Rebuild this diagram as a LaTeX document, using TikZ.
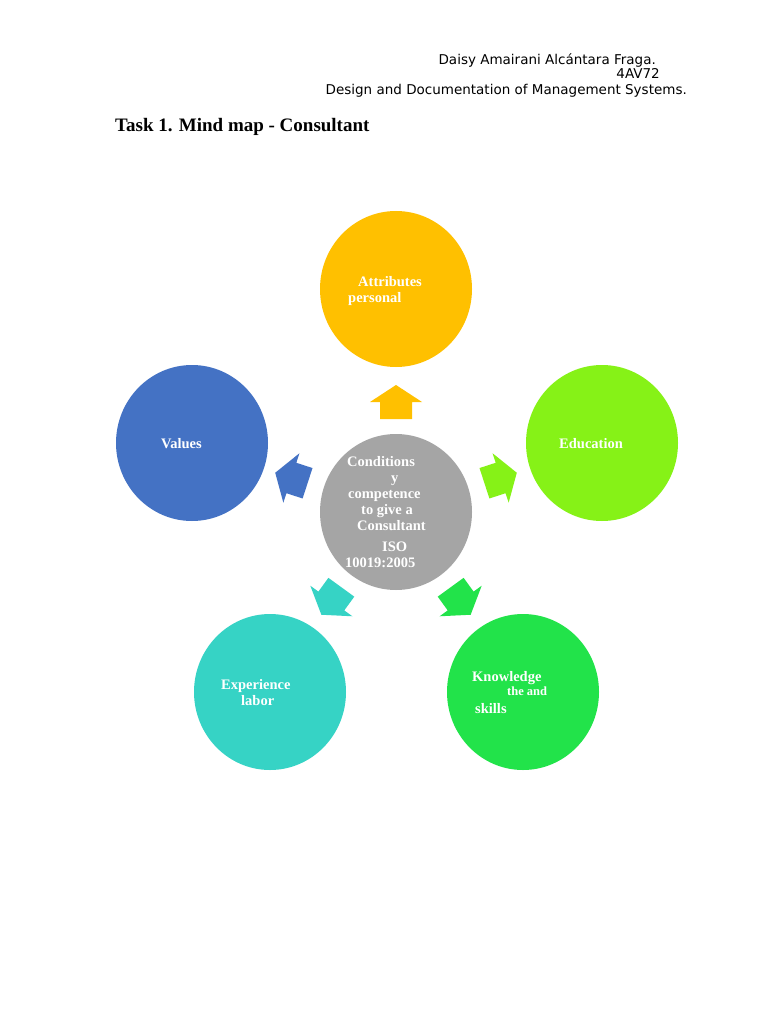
\documentclass[tikz,border=0pt]{standalone}
\usepackage{fontspec}
\setmainfont{Liberation Serif}
\newfontfamily\hdrfont{DejaVu Sans}
\usetikzlibrary{shapes.geometric}
\definecolor{cgold}{HTML}{FFC000}
\definecolor{cblue}{HTML}{4472C4}
\definecolor{clime}{HTML}{86F217}
\definecolor{cgrey}{HTML}{A5A5A5}
\definecolor{cteal}{HTML}{36D3C5}
\definecolor{cgreen}{HTML}{22E34A}
\tikzset{
  bub/.style={ellipse, minimum width=152pt, minimum height=156pt, inner sep=0pt, fill=#1},
  lab/.style={anchor=base west, text=white, font=\bfseries\fontsize{14.5}{16}\selectfont, inner sep=0pt},
  smalllab/.style={lab, font=\bfseries\fontsize{12.5}{14}\selectfont},
  hdr/.style={anchor=base east, inner sep=0pt, font=\hdrfont\fontsize{13.5}{15}\selectfont},
}
\begin{document}
\begin{tikzpicture}[x=1pt,y=-1pt]
\useasboundingbox[fill=white] (0,0) rectangle (768,1024);
% header
\node[hdr] (h1) at (656,65) {Daisy Amairani Alcántara Fraga.};
\node[hdr] (h2) at (660,79) {4AV72};
\node[hdr] (h3) at (687,95) {Design and Documentation of Management Systems.};
\node[anchor=base west, inner sep=0pt, font=\bfseries\fontsize{19}{22}\selectfont] (title) at (115,132) {Task 1. Mind map - Consultant};
% bubbles
\node[bub=cgrey] (c) at (396,512) {};
\node[bub=cgold] (attr) at (396,289) {};
\node[bub=cblue] (val) at (192,443) {};
\node[bub=clime] (edu) at (602,443) {};
\node[bub=cteal] (exp) at (270,692) {};
\node[bub=cgreen] (know) at (523,692) {};
% arrows
\begin{scope}[shift={(c.center)}]
\foreach \ang/\col in {90/cgold, 162/cblue, 18/clime, -54/cgreen, -126/cteal}{
  \fill[\col, rotate=\ang] (93,-16) -- (110,-16) -- (110,-26) -- (127,0) -- (110,26) -- (110,16) -- (93,16) -- cycle;
}
\end{scope}
% labels
\node[lab] (a1) at (358,286) {Attributes};
\node[lab] (a2) at (348,302) {personal};
\node[lab] (v1) at (161,448) {Values};
\node[lab] (e1) at (559,448) {Education};
\node[lab] (c1) at (347,466) {Conditions};
\node[lab] (c2) at (391,482) {y};
\node[lab] (c3) at (348,498) {competence};
\node[lab] (c4) at (361,514) {to give a};
\node[lab] (c5) at (357,530) {Consultant};
\node[lab] (c6) at (382,551) {ISO};
\node[lab] (c7) at (345,567) {10019:2005};
\node[lab] (k1) at (472,681) {Knowledge};
\node[smalllab] (k2) at (507,695) {the and};
\node[lab] (k3) at (475,713) {skills};
\node[lab] (x1) at (221,689) {Experience};
\node[lab] (x2) at (241,705) {labor};
\end{tikzpicture}
\end{document}
